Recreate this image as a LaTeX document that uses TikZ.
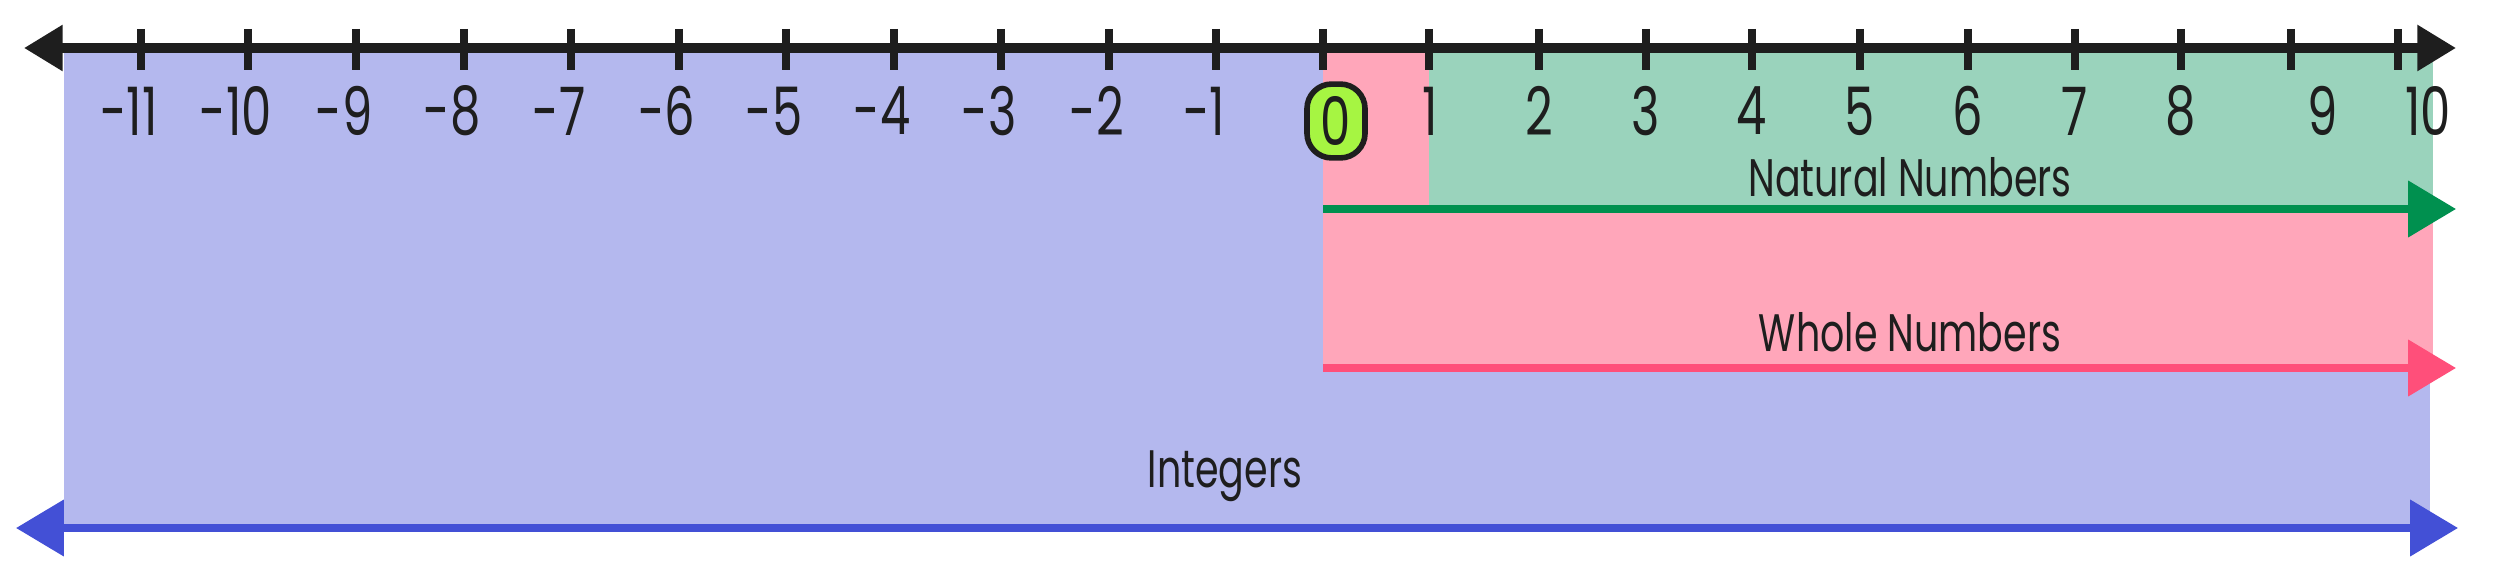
\documentclass[tikz,border=0pt]{standalone}
\usepackage{fontspec}
\setmainfont{Poppins}[FakeStretch=0.72]
\usetikzlibrary{arrows.meta}
\definecolor{blueF}{HTML}{B4B8EE}
\definecolor{blueA}{HTML}{4350D6}
\definecolor{greenF}{HTML}{9AD3BC}
\definecolor{greenA}{HTML}{00904F}
\definecolor{pinkF}{HTML}{FFA6BA}
\definecolor{pinkA}{HTML}{FF4F7A}
\definecolor{lime}{HTML}{A6F542}
\definecolor{ink}{HTML}{1E1E1E}
\tikzset{
  num/.style={font=\fontsize{19}{22}\selectfont, text=ink, inner sep=0pt},
  lbl/.style={font=\fontsize{15}{18}\selectfont, text=ink, inner sep=0pt},
  tick/.style={line width=2.2pt, draw=ink},
  bigtip/.style={Triangle[length=13.6pt,width=15.6pt]},
  axtip/.style={Triangle[length=11pt,width=12.5pt]},
}
\begin{document}
\begin{tikzpicture}[x=0.01cm,y=-0.01cm]
\useasboundingbox (0,0) rectangle (2500,579);
% regions
\fill[blueF] (64,48) rectangle (2430,528);
\fill[pinkF] (1323,48) rectangle (2433,368);
\fill[greenF] (1429,48) rectangle (2433,205);
% axis
\coordinate (axL) at (24,48);
\coordinate (axR) at (2456,48);
\draw[line width=2.6pt, ink, {Triangle[length=11pt,width=12.5pt]}-{Triangle[length=11pt,width=12.5pt]}] (axL) -- (axR);
% ticks and numbers
\foreach \n/\x in {-11/141,-10/248,-9/356,-8/464,-7/571,-6/679,-5/786,-4/894,-3/1001,-2/1109,-1/1216}{
  \draw[tick] (\x,29) -- (\x,70);
  \node[num] (n\n) at (\x-12,111) {\n};
}
\draw[tick] (1323,29) -- (1323,70);
\foreach \n/\x in {1/1429,2/1539,3/1646,4/1752,5/1860,6/1968,7/2075,8/2181,9/2291,10/2398}{
  \draw[tick] (\x,29) -- (\x,70);
}
\foreach \n/\x in {1/1430,2/1539,3/1646,4/1752,5/1860,6/1968,7/2075,8/2181,9/2323,10/2428}{
  \node[num] (p\n) at (\x,111) {\n};
}
\node[num, draw=ink, line width=1.6pt, fill=lime, rounded corners=7pt, minimum width=16.5pt, minimum height=21pt] (n0) at (1336,121) {0};
% natural
\coordinate (natL) at (1323,209);
\coordinate (natR) at (2456,209);
\draw[line width=2.2pt, greenA, -{Triangle[length=13.6pt,width=15.6pt]}] (natL) -- (natR);
\node[lbl] (nat) at (1910,177) {Natural Numbers};
% whole
\coordinate (whL) at (1323,368);
\coordinate (whR) at (2456,368);
\draw[line width=2.2pt, pinkA, -{Triangle[length=13.6pt,width=15.6pt]}] (whL) -- (whR);
\node[lbl] (wh) at (1910,332) {Whole Numbers};
% integers
\coordinate (inL) at (16,528);
\coordinate (inR) at (2458,528);
\draw[line width=2.2pt, blueA, {Triangle[length=13.6pt,width=15.6pt]}-{Triangle[length=13.6pt,width=15.6pt]}] (inL) -- (inR);
\node[lbl] (int) at (1225,476) {Integers};
\end{tikzpicture}
\end{document}
